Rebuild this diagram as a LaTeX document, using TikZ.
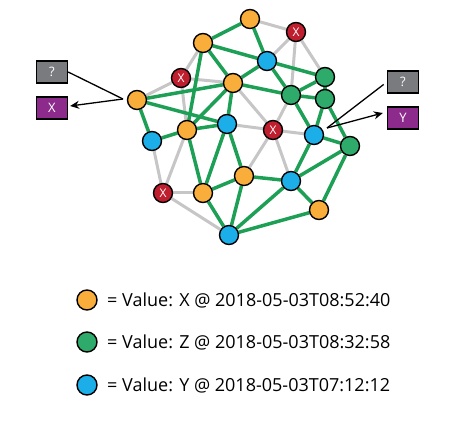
\documentclass[tikz,border=0pt]{standalone}
\usepackage{fontspec}
\setmainfont{Open Sans}
\usepackage{tikz}
\usetikzlibrary{arrows.meta, positioning, backgrounds}

\definecolor{valx}{HTML}{F9AE3B}
\definecolor{valz}{HTML}{2EAA6A}
\definecolor{valy}{HTML}{1CAEE8}
\definecolor{nodata}{HTML}{BE1E2D}
\definecolor{goodedge}{HTML}{1DA055}
\definecolor{badedge}{HTML}{C6C6C6}
\definecolor{askgray}{HTML}{7A7B7E}
\definecolor{answer}{HTML}{8C2B8C}

\begin{document}
\begin{tikzpicture}[x=1pt, y=-1pt,
    peer/.style={circle, draw=black, line width=1.4pt, minimum size=19pt, inner sep=0pt},
    px/.style={peer, fill=valx},
    pz/.style={peer, fill=valz},
    py/.style={peer, fill=valy},
    pdead/.style={peer, fill=nodata, text=white, font=\fontsize{12}{12}\selectfont},
    good/.style={draw=goodedge, line width=3.5pt},
    bad/.style={draw=badedge, line width=3pt},
    query/.style={draw=black, line width=1.3pt, minimum width=31pt, minimum height=22pt, inner sep=0pt, text=white, font=\fontsize{13}{13}\selectfont},
    key/.style={peer, minimum size=20pt}]

    \useasboundingbox (0,0) rectangle (474,427);

    \node[px] (oT) at (250,19) {};
    \node[pdead] (xT) at (296,32) {X};
    \node[px] (oA) at (203,43) {};
    \node[py] (bA) at (267,61) {};
    \node[pdead] (xA) at (181,78) {X};
    \node[px] (oC) at (233,83) {};
    \node[pz] (gA) at (325,77) {};
    \node[pz] (gB) at (291,95) {};
    \node[pz] (gC) at (325,99) {};
    \node[px] (oL) at (137,100) {};
    \node[py] (bL) at (152,141) {};
    \node[px] (oB) at (187,130) {};
    \node[py] (bC) at (227,124) {};
    \node[pdead] (xC) at (273,130) {X};
    \node[py] (bR) at (314,135) {};
    \node[pz] (gR) at (350,146) {};
    \node[pdead] (xL) at (163,193) {X};
    \node[px] (oD) at (203,193) {};
    \node[px] (oE) at (244,176) {};
    \node[py] (bD) at (291,181) {};
    \node[px] (oF) at (319,210) {};
    \node[py] (bB) at (229,235) {};

    \begin{scope}[on background layer]
        \draw[bad] (oT) -- (xT);
        \draw[bad] (xT) -- (bA);
        \draw[bad] (xT) -- (gB);
        \draw[bad] (xT) -- (gA);
        \draw[bad] (oA) -- (xA);
        \draw[bad] (xA) -- (oL);
        \draw[bad] (xA) -- (oC);
        \draw[bad] (xA) -- (oB);
        \draw[bad] (oC) -- (xC);
        \draw[bad] (gB) -- (xC);
        \draw[bad] (bC) -- (xC);
        \draw[bad] (xC) -- (bR);
        \draw[bad] (xC) -- (oE);
        \draw[bad] (xC) -- (bD);
        \draw[bad] (bL) -- (xL);
        \draw[bad] (oB) -- (xL);
        \draw[bad] (xL) -- (oD);
        \draw[bad] (xL) -- (bB);

        \draw[good] (oA) -- (oT);
        \draw[good] (oT) -- (bA);
        \draw[good] (oA) -- (bA);
        \draw[good] (oA) -- (oC);
        \draw[good] (oA) -- (oB);
        \draw[good] (bA) -- (oC);
        \draw[good] (bA) -- (gA);
        \draw[good] (bA) -- (gB);
        \draw[good] (oC) -- (oL);
        \draw[good] (oC) -- (gB);
        \draw[good] (oC) -- (oB);
        \draw[good] (oC) -- (bC);
        \draw[good] (oL) -- (bC);
        \draw[good] (oL) -- (bL);
        \draw[good] (gA) -- (gB);
        \draw[good] (gA) -- (gC);
        \draw[good] (gB) -- (gC);
        \draw[good] (gB) -- (bR);
        \draw[good] (gC) -- (bR);
        \draw[good] (gC) -- (gR);
        \draw[good] (bR) -- (gR);
        \draw[good] (bR) -- (bD);
        \draw[good] (gR) -- (bD);
        \draw[good] (gR) -- (oF);
        \draw[good] (bD) -- (oE);
        \draw[good] (bD) -- (oF);
        \draw[good] (bD) -- (bB);
        \draw[good] (oF) -- (bB);
        \draw[good] (oE) -- (bB);
        \draw[good] (oD) -- (bB);
        \draw[good] (oE) -- (oD);
        \draw[good] (oE) -- (bC);
        \draw[good] (bC) -- (oD);
        \draw[good] (oB) -- (oD);
        \draw[good] (oB) -- (bC);
        \draw[good] (oB) -- (bL);
    \end{scope}

    \node[query, fill=askgray] (askL) at (52,72) {?};
    \node[query, fill=answer] (ansL) at (52,108) {X};
    \node[query, fill=askgray] (askR) at (403,82) {?};
    \node[query, fill=answer] (ansR) at (403,118) {Y};
    \coordinate (hubL) at (123,99);
    \coordinate (hubR) at (327,128);

    \draw[line width=1.3pt] (askL.east) -- (hubL);
    \draw[-{Stealth[length=9pt, width=8pt]}, line width=1.3pt] (hubL) -- ([xshift=2pt, yshift=2pt]ansL.east);
    \draw[line width=1.3pt, shorten <=4pt] (askR.west) -- (hubR);
    \draw[-{Stealth[length=9pt, width=8pt]}, line width=1.3pt] (hubR) -- ([xshift=-4pt, yshift=5pt]ansR.west);

    \node[key, fill=valx] (keyX) at (87,300) {};
    \node[key, fill=valz] (keyZ) at (87,342) {};
    \node[key, fill=valy] (keyY) at (87,385) {};
    \node[right=6pt of keyX, font=\fontsize{18}{18}\selectfont] (txtX) {= Value: X @ 2018-05-03T08:52:40};
    \node[right=6pt of keyZ, font=\fontsize{18}{18}\selectfont] (txtZ) {= Value: Z @ 2018-05-03T08:32:58};
    \node[right=6pt of keyY, font=\fontsize{18}{18}\selectfont] (txtY) {= Value: Y @ 2018-05-03T07:12:12};
\end{tikzpicture}
\end{document}
